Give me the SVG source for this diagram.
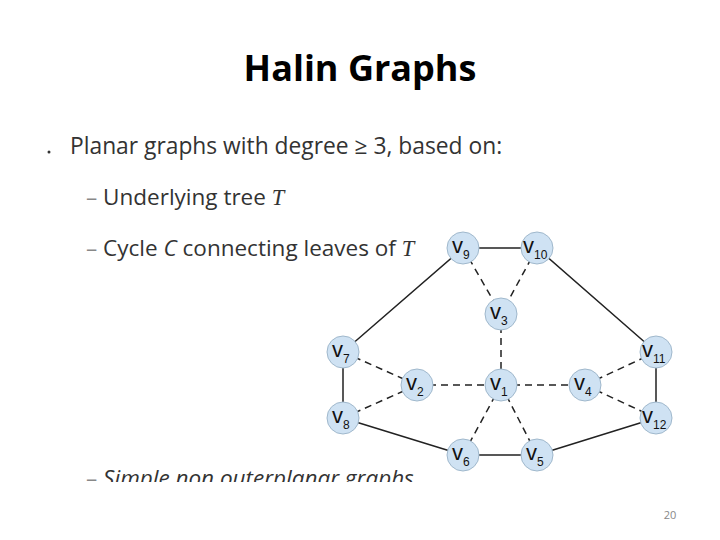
<svg xmlns="http://www.w3.org/2000/svg" width="720" height="540" viewBox="0 0 720 540">
<style>
.t{font-family:"Open Sans","Liberation Sans",sans-serif;fill:#333}
.n circle{fill:#cfe2f3;stroke:#a0b8cc;stroke-width:1}
.n text{font-family:"Liberation Sans",sans-serif;fill:#111}
.s{stroke:#222;stroke-width:1.5;fill:none}
.d{stroke:#222;stroke-width:1.5;fill:none;stroke-dasharray:7 5}
</style>
<defs><clipPath id="c"><rect x="0" y="0" width="720" height="482"/></clipPath></defs>
<rect width="720" height="540" fill="#fff"/>
<text x="360" y="81" text-anchor="middle" class="t" style="fill:#000;font-weight:bold;font-size:36px">Halin Graphs</text>
<circle cx="49" cy="152" r="1.5" fill="#333"/>
<text x="70" y="154" class="t" font-size="22.8">Planar graphs with degree ≥ 3, based on:</text>
<text x="86" y="205" class="t" font-size="22.5"><tspan fill="#888">– </tspan>Underlying tree <tspan font-family="Liberation Serif" font-style="italic">T</tspan></text>
<text x="86" y="256" class="t" font-size="22.5"><tspan fill="#888">– </tspan>Cycle <tspan font-style="italic">C</tspan> connecting leaves of <tspan font-family="Liberation Serif" font-style="italic">T</tspan></text>
<text x="86" y="486" class="t" font-size="22.5" clip-path="url(#c)"><tspan fill="#888">– </tspan><tspan font-style="italic">Simple non outerplanar graphs</tspan></text>
<g id="edges">
<path class="s" d="M463 248H537M537 248L656 352M656 352V418M656 418L537 455M537 455H463M463 455L343 418M343 418V352M343 352L463 248"/>
<path class="d" d="M463 248L501 314M537 248L501 314M501 314V385M343 352L417 385M343 418L417 385M417 385H585M501 385L463 455M501 385L537 455M585 385L656 352M585 385L656 418"/>
</g>
<g id="v9" class="n"><circle cx="463" cy="248" r="16"/><text x="452" y="253" font-size="22">v<tspan font-size="12" dy="6">9</tspan></text></g>
<g id="v10" class="n"><circle cx="537" cy="248" r="16"/><text x="523" y="253" font-size="22">v<tspan font-size="12" dy="6">10</tspan></text></g>
<g id="v3" class="n"><circle cx="501" cy="314" r="16"/><text x="490" y="319" font-size="22">v<tspan font-size="12" dy="6">3</tspan></text></g>
<g id="v7" class="n"><circle cx="343" cy="352" r="16"/><text x="332" y="357" font-size="22">v<tspan font-size="12" dy="6">7</tspan></text></g>
<g id="v11" class="n"><circle cx="656" cy="352" r="16"/><text x="642" y="357" font-size="22">v<tspan font-size="12" dy="6">11</tspan></text></g>
<g id="v2" class="n"><circle cx="417" cy="385" r="16"/><text x="406" y="390" font-size="22">v<tspan font-size="12" dy="6">2</tspan></text></g>
<g id="v1" class="n"><circle cx="501" cy="385" r="16"/><text x="490" y="390" font-size="22">v<tspan font-size="12" dy="6">1</tspan></text></g>
<g id="v4" class="n"><circle cx="585" cy="385" r="16"/><text x="574" y="390" font-size="22">v<tspan font-size="12" dy="6">4</tspan></text></g>
<g id="v8" class="n"><circle cx="343" cy="418" r="16"/><text x="332" y="423" font-size="22">v<tspan font-size="12" dy="6">8</tspan></text></g>
<g id="v12" class="n"><circle cx="656" cy="418" r="16"/><text x="642" y="423" font-size="22">v<tspan font-size="12" dy="6">12</tspan></text></g>
<g id="v6" class="n"><circle cx="463" cy="455" r="16"/><text x="452" y="460" font-size="22">v<tspan font-size="12" dy="6">6</tspan></text></g>
<g id="v5" class="n"><circle cx="537" cy="455" r="16"/><text x="526" y="460" font-size="22">v<tspan font-size="12" dy="6">5</tspan></text></g>
<text x="670" y="519" text-anchor="middle" class="t" font-size="11" style="fill:#888">20</text>
</svg>
